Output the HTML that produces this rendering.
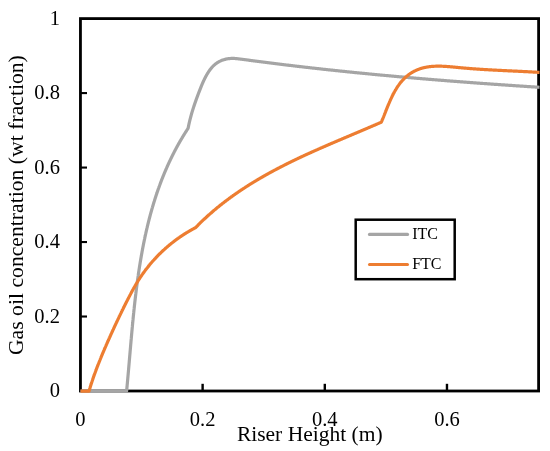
<!DOCTYPE html>
<html><head><meta charset="utf-8"><style>
html,body{margin:0;padding:0;background:#fff;}
body{width:550px;height:451px;overflow:hidden;}
svg{display:block;}
text{font-family:"Liberation Serif",serif;fill:#000;}
.tk{font-size:20.5px;}
.tt{font-size:21.7px;}
.lg{font-size:16px;}
</style></head><body>
<svg width="550" height="451" viewBox="0 0 550 451">
<rect x="0" y="0" width="550" height="451" fill="#fff"/>
<rect x="80.45" y="18.60" width="458.15" height="372.40" fill="none" stroke="#000" stroke-width="2.8"/>
<line x1="202.62" y1="391.00" x2="202.62" y2="383.8" stroke="#000" stroke-width="2.4"/><line x1="324.80" y1="391.00" x2="324.80" y2="383.8" stroke="#000" stroke-width="2.4"/><line x1="446.97" y1="391.00" x2="446.97" y2="383.8" stroke="#000" stroke-width="2.4"/><line x1="80.45" y1="316.52" x2="87" y2="316.52" stroke="#000" stroke-width="2.1"/><line x1="80.45" y1="242.04" x2="87" y2="242.04" stroke="#000" stroke-width="2.1"/><line x1="80.45" y1="167.56" x2="87" y2="167.56" stroke="#000" stroke-width="2.1"/><line x1="80.45" y1="93.08" x2="87" y2="93.08" stroke="#000" stroke-width="2.1"/>
<path d="M80.50 391.20 L126.60 391.20 L126.64 390.75 L126.69 390.30 L126.73 389.85 L126.77 389.40 L126.81 388.96 L126.86 388.51 L126.90 388.06 L126.94 387.61 L126.98 387.16 L127.03 386.71 L127.07 386.26 L127.11 385.81 L127.15 385.36 L127.19 384.91 L127.23 384.46 L127.28 384.01 L127.32 383.56 L127.36 383.11 L127.40 382.66 L127.44 382.21 L127.48 381.76 L127.52 381.31 L127.56 380.86 L127.61 380.41 L127.65 379.96 L127.69 379.51 L127.73 379.06 L127.77 378.61 L127.81 378.16 L127.85 377.70 L127.89 377.25 L127.93 376.80 L127.97 376.35 L128.01 375.90 L128.05 375.45 L128.09 375.00 L128.13 374.55 L128.17 374.09 L128.21 373.64 L128.25 373.19 L128.29 372.74 L128.33 372.29 L128.37 371.83 L128.41 371.38 L128.45 370.93 L128.49 370.48 L128.53 370.03 L128.57 369.57 L128.61 369.12 L128.65 368.67 L128.69 368.22 L128.73 367.76 L128.76 367.31 L128.80 366.86 L128.84 366.40 L128.88 365.95 L128.92 365.50 L128.96 365.05 L129.00 364.59 L129.04 364.14 L129.08 363.69 L129.12 363.23 L129.16 362.78 L129.20 362.33 L129.23 361.87 L129.27 361.42 L129.31 360.97 L129.35 360.51 L129.39 360.06 L129.43 359.61 L129.47 359.15 L129.51 358.70 L129.55 358.24 L129.59 357.79 L129.62 357.34 L129.66 356.88 L129.70 356.43 L129.74 355.97 L129.78 355.52 L129.82 355.07 L129.86 354.61 L129.90 354.16 L129.94 353.70 L129.98 353.25 L130.02 352.80 L130.05 352.34 L130.09 351.89 L130.13 351.43 L130.17 350.98 L130.21 350.52 L130.25 350.07 L130.29 349.61 L130.33 349.16 L130.37 348.70 L130.41 348.25 L130.45 347.79 L130.49 347.34 L130.53 346.88 L130.57 346.43 L130.60 345.97 L130.64 345.52 L130.68 345.06 L130.72 344.61 L130.76 344.15 L130.80 343.70 L130.84 343.24 L130.88 342.79 L130.92 342.33 L130.96 341.88 L131.00 341.42 L131.04 340.97 L131.08 340.51 L131.12 340.06 L131.16 339.60 L131.20 339.15 L131.24 338.69 L131.29 338.24 L131.33 337.78 L131.37 337.32 L131.41 336.87 L131.45 336.41 L131.49 335.96 L131.53 335.50 L131.57 335.05 L131.61 334.59 L131.65 334.14 L131.69 333.68 L131.74 333.22 L131.78 332.77 L131.82 332.31 L131.86 331.86 L131.90 331.40 L131.94 330.95 L131.99 330.49 L132.03 330.03 L132.07 329.58 L132.11 329.12 L132.15 328.67 L132.20 328.21 L132.24 327.76 L132.28 327.30 L132.32 326.84 L132.37 326.39 L132.41 325.93 L132.45 325.48 L132.50 325.02 L132.54 324.56 L132.58 324.11 L132.63 323.65 L132.67 323.20 L132.71 322.74 L132.76 322.29 L132.80 321.83 L132.85 321.37 L132.89 320.92 L132.93 320.46 L132.98 320.01 L133.02 319.55 L133.07 319.09 L133.11 318.64 L133.16 318.18 L133.20 317.73 L133.25 317.27 L133.29 316.82 L133.34 316.36 L133.39 315.90 L133.43 315.45 L133.48 314.99 L133.52 314.54 L133.57 314.08 L133.62 313.62 L133.66 313.17 L133.71 312.71 L133.76 312.26 L133.80 311.80 L133.85 311.35 L133.90 310.89 L133.95 310.43 L133.99 309.98 L134.04 309.52 L134.09 309.07 L134.14 308.61 L134.19 308.16 L134.23 307.70 L134.28 307.25 L134.33 306.79 L134.38 306.33 L134.43 305.88 L134.48 305.42 L134.53 304.97 L134.58 304.51 L134.63 304.06 L134.68 303.60 L134.73 303.15 L134.78 302.69 L134.83 302.24 L134.88 301.78 L134.93 301.33 L134.99 300.87 L135.04 300.42 L135.09 299.96 L135.14 299.50 L135.19 299.05 L135.25 298.59 L135.30 298.14 L135.35 297.68 L135.40 297.23 L135.46 296.77 L135.51 296.32 L135.56 295.86 L135.62 295.41 L135.67 294.96 L135.73 294.50 L135.78 294.05 L135.83 293.59 L135.89 293.14 L135.94 292.68 L136.00 292.23 L136.06 291.77 L136.11 291.32 L136.17 290.86 L136.22 290.41 L136.28 289.96 L136.34 289.50 L136.39 289.05 L136.45 288.59 L136.51 288.14 L136.57 287.68 L136.62 287.23 L136.68 286.78 L136.74 286.32 L136.80 285.87 L136.86 285.41 L136.92 284.96 L136.98 284.51 L137.04 284.05 L137.10 283.60 L137.16 283.15 L137.22 282.69 L137.28 282.24 L137.34 281.79 L137.40 281.33 L137.46 280.88 L137.52 280.43 L137.59 279.97 L137.65 279.52 L137.71 279.07 L137.77 278.61 L137.84 278.16 L137.90 277.71 L137.96 277.25 L138.03 276.80 L138.09 276.35 L138.16 275.90 L138.22 275.44 L138.29 274.99 L138.35 274.54 L138.42 274.09 L138.48 273.63 L138.55 273.18 L138.62 272.73 L138.68 272.28 L138.75 271.82 L138.82 271.37 L138.89 270.92 L138.95 270.47 L139.02 270.02 L139.09 269.56 L139.16 269.11 L139.23 268.66 L139.30 268.21 L139.37 267.76 L139.44 267.31 L139.51 266.86 L139.58 266.40 L139.65 265.95 L139.72 265.50 L139.79 265.05 L139.87 264.60 L139.94 264.15 L140.01 263.70 L140.08 263.25 L140.16 262.80 L140.23 262.35 L140.31 261.90 L140.38 261.45 L140.45 261.00 L140.53 260.55 L140.61 260.10 L140.68 259.65 L140.76 259.20 L140.83 258.75 L140.91 258.30 L140.99 257.85 L141.06 257.40 L141.14 256.95 L141.22 256.50 L141.30 256.05 L141.38 255.60 L141.46 255.15 L141.54 254.70 L141.62 254.25 L141.70 253.80 L141.78 253.36 L141.86 252.91 L141.94 252.46 L142.02 252.01 L142.10 251.56 L142.19 251.11 L142.27 250.66 L142.35 250.22 L142.43 249.77 L142.52 249.32 L142.60 248.87 L142.69 248.43 L142.77 247.98 L142.86 247.53 L142.94 247.08 L143.03 246.64 L143.12 246.19 L143.20 245.74 L143.29 245.29 L143.38 244.85 L143.47 244.40 L143.56 243.95 L143.64 243.51 L143.73 243.06 L143.82 242.62 L143.91 242.17 L144.00 241.72 L144.09 241.28 L144.19 240.83 L144.28 240.39 L144.37 239.94 L144.46 239.49 L144.56 239.05 L144.65 238.60 L144.74 238.16 L144.84 237.71 L144.93 237.27 L145.03 236.82 L145.12 236.38 L145.22 235.94 L145.31 235.49 L145.41 235.05 L145.51 234.60 L145.61 234.16 L145.70 233.71 L145.80 233.27 L145.90 232.83 L146.00 232.38 L146.10 231.94 L146.20 231.50 L146.30 231.05 L146.40 230.61 L146.50 230.17 L146.60 229.72 L146.71 229.28 L146.81 228.84 L146.91 228.40 L147.02 227.96 L147.12 227.51 L147.23 227.07 L147.33 226.63 L147.44 226.19 L147.54 225.75 L147.65 225.30 L147.76 224.86 L147.86 224.42 L147.97 223.98 L148.08 223.54 L148.19 223.10 L148.30 222.66 L148.41 222.22 L148.52 221.78 L148.63 221.34 L148.74 220.90 L148.85 220.46 L148.96 220.02 L149.07 219.58 L149.19 219.14 L149.30 218.70 L149.42 218.26 L149.53 217.82 L149.64 217.38 L149.76 216.95 L149.88 216.51 L149.99 216.07 L150.11 215.63 L150.23 215.19 L150.34 214.76 L150.46 214.32 L150.58 213.88 L150.70 213.44 L150.82 213.01 L150.94 212.57 L151.06 212.13 L151.18 211.70 L151.31 211.26 L151.43 210.82 L151.55 210.39 L151.68 209.95 L151.80 209.51 L151.92 209.08 L152.05 208.64 L152.17 208.21 L152.30 207.77 L152.43 207.34 L152.55 206.90 L152.68 206.47 L152.81 206.03 L152.94 205.60 L153.07 205.17 L153.20 204.73 L153.33 204.30 L153.46 203.86 L153.59 203.43 L153.72 203.00 L153.86 202.56 L153.99 202.13 L154.12 201.70 L154.26 201.27 L154.39 200.83 L154.53 200.40 L154.66 199.97 L154.80 199.54 L154.93 199.11 L155.07 198.68 L155.21 198.24 L155.35 197.81 L155.49 197.38 L155.63 196.95 L155.77 196.52 L155.91 196.09 L156.05 195.66 L156.19 195.23 L156.33 194.80 L156.48 194.37 L156.62 193.94 L156.77 193.51 L156.91 193.08 L157.06 192.66 L157.20 192.23 L157.35 191.80 L157.50 191.37 L157.64 190.94 L157.79 190.52 L157.94 190.09 L158.09 189.66 L158.24 189.23 L158.39 188.81 L158.54 188.38 L158.69 187.95 L158.85 187.53 L159.00 187.10 L159.15 186.67 L159.31 186.25 L159.46 185.82 L159.62 185.40 L159.77 184.97 L159.93 184.55 L160.09 184.12 L160.25 183.70 L160.40 183.28 L160.56 182.85 L160.72 182.43 L160.88 182.00 L161.04 181.58 L161.21 181.16 L161.37 180.74 L161.53 180.31 L161.69 179.89 L161.86 179.47 L162.02 179.05 L162.19 178.62 L162.35 178.20 L162.52 177.78 L162.69 177.36 L162.86 176.94 L163.03 176.52 L163.19 176.10 L163.36 175.68 L163.53 175.26 L163.71 174.84 L163.88 174.42 L164.05 174.00 L164.22 173.58 L164.40 173.16 L164.57 172.74 L164.75 172.32 L164.92 171.91 L165.10 171.49 L165.28 171.07 L165.45 170.65 L165.63 170.24 L165.81 169.82 L165.99 169.40 L166.17 168.99 L166.35 168.57 L166.53 168.15 L166.72 167.74 L166.90 167.32 L167.08 166.91 L167.27 166.49 L167.45 166.08 L167.64 165.66 L167.82 165.25 L168.01 164.84 L168.20 164.42 L168.39 164.01 L168.58 163.60 L168.77 163.18 L168.96 162.77 L169.15 162.36 L169.34 161.94 L169.53 161.53 L169.73 161.12 L169.92 160.71 L170.11 160.30 L170.31 159.89 L170.51 159.48 L170.70 159.07 L170.90 158.66 L171.10 158.25 L171.30 157.84 L171.50 157.43 L171.70 157.02 L171.90 156.61 L172.10 156.20 L172.30 155.79 L172.51 155.38 L172.71 154.98 L172.91 154.57 L173.12 154.16 L173.33 153.75 L173.53 153.35 L173.74 152.94 L173.95 152.54 L174.16 152.13 L174.37 151.72 L174.58 151.32 L174.79 150.91 L175.00 150.51 L175.21 150.10 L175.43 149.70 L175.64 149.30 L175.86 148.89 L176.07 148.49 L176.29 148.09 L176.51 147.68 L176.72 147.28 L176.94 146.88 L177.16 146.48 L177.38 146.07 L177.60 145.67 L177.82 145.27 L178.05 144.87 L178.27 144.47 L178.49 144.07 L178.72 143.67 L178.95 143.27 L179.17 142.87 L179.40 142.47 L179.63 142.07 L179.86 141.67 L180.08 141.27 L180.31 140.88 L180.55 140.48 L180.78 140.08 L181.01 139.68 L181.24 139.29 L181.48 138.89 L181.71 138.49 L181.95 138.10 L182.18 137.70 L182.42 137.31 L182.66 136.91 L182.90 136.52 L183.14 136.12 L183.38 135.73 L183.62 135.34 L183.86 134.94 L184.10 134.55 L184.35 134.16 L184.59 133.76 L184.84 133.37 L185.08 132.98 L185.33 132.59 L185.58 132.20 L185.83 131.80 L186.08 131.41 L186.33 131.02 L186.58 130.63 L186.83 130.24 L187.08 129.85 L187.34 129.47 L187.59 129.08 L187.84 128.69 L188.10 128.30 L188.23 127.64 L188.36 126.98 L188.49 126.32 L188.62 125.66 L188.76 125.01 L188.90 124.36 L189.05 123.70 L189.19 123.05 L189.34 122.40 L189.49 121.75 L189.65 121.11 L189.80 120.46 L189.96 119.82 L190.13 119.17 L190.29 118.53 L190.46 117.89 L190.63 117.25 L190.80 116.61 L190.97 115.97 L191.15 115.33 L191.32 114.70 L191.51 114.06 L191.69 113.43 L191.87 112.79 L192.06 112.16 L192.25 111.53 L192.44 110.90 L192.63 110.27 L192.83 109.64 L193.03 109.01 L193.23 108.38 L193.43 107.75 L193.63 107.12 L193.83 106.50 L194.04 105.87 L194.25 105.24 L194.46 104.62 L194.67 103.99 L194.88 103.37 L195.10 102.75 L195.32 102.12 L195.54 101.50 L195.76 100.88 L195.98 100.25 L196.20 99.63 L196.42 99.01 L196.65 98.39 L196.88 97.77 L197.11 97.15 L197.34 96.52 L197.57 95.90 L197.80 95.28 L198.03 94.66 L198.27 94.04 L198.51 93.42 L198.74 92.80 L198.98 92.17 L199.22 91.55 L199.46 90.93 L199.70 90.31 L199.95 89.69 L200.19 89.07 L200.43 88.44 L200.68 87.82 L200.93 87.20 L201.18 86.58 L201.43 85.96 L201.69 85.34 L201.94 84.72 L202.20 84.10 L202.46 83.49 L202.73 82.87 L203.00 82.26 L203.27 81.65 L203.55 81.04 L203.83 80.43 L204.12 79.83 L204.41 79.23 L204.70 78.63 L205.00 78.03 L205.30 77.44 L205.61 76.85 L205.93 76.26 L206.25 75.67 L206.57 75.09 L206.90 74.52 L207.24 73.94 L207.59 73.38 L207.94 72.81 L208.30 72.25 L208.66 71.70 L209.04 71.15 L209.42 70.60 L209.81 70.06 L210.20 69.52 L210.61 68.99 L211.02 68.47 L211.44 67.96 L211.87 67.45 L212.32 66.96 L212.77 66.47 L213.23 66.00 L213.70 65.54 L214.19 65.09 L214.68 64.65 L215.19 64.24 L215.71 63.83 L216.23 63.44 L216.77 63.06 L217.32 62.70 L217.88 62.36 L218.44 62.02 L219.02 61.71 L219.60 61.40 L220.19 61.11 L220.79 60.84 L221.39 60.58 L222.00 60.34 L222.62 60.11 L223.24 59.89 L223.87 59.69 L224.50 59.50 L225.14 59.33 L225.78 59.17 L226.43 59.03 L227.08 58.90 L227.73 58.79 L228.38 58.69 L229.04 58.61 L229.70 58.54 L230.36 58.48 L231.02 58.44 L231.69 58.42 L232.35 58.41 L233.01 58.41 L233.67 58.43 L234.34 58.46 L235.00 58.50 L235.66 58.55 L236.33 58.61 L236.99 58.68 L237.65 58.75 L238.31 58.83 L238.98 58.91 L239.64 58.99 L240.30 59.07 L240.96 59.16 L241.62 59.25 L242.28 59.33 L242.94 59.42 L243.60 59.50 L244.25 59.59 L244.91 59.68 L245.57 59.77 L246.23 59.85 L246.89 59.94 L247.54 60.03 L248.20 60.12 L248.86 60.21 L249.52 60.29 L250.18 60.38 L250.83 60.47 L251.49 60.56 L252.15 60.64 L252.81 60.73 L253.46 60.82 L254.12 60.90 L254.78 60.99 L255.44 61.08 L256.09 61.16 L256.75 61.25 L257.41 61.33 L258.07 61.42 L258.73 61.51 L259.38 61.59 L260.04 61.68 L260.70 61.76 L261.36 61.85 L262.02 61.93 L262.67 62.02 L263.33 62.10 L263.99 62.19 L264.65 62.27 L265.31 62.35 L265.96 62.44 L266.62 62.52 L267.28 62.61 L267.94 62.69 L268.60 62.77 L269.25 62.86 L269.91 62.94 L270.57 63.02 L271.23 63.11 L271.89 63.19 L272.55 63.27 L273.20 63.35 L273.86 63.44 L274.52 63.52 L275.18 63.60 L275.84 63.68 L276.50 63.76 L277.15 63.85 L277.81 63.93 L278.47 64.01 L279.13 64.09 L279.79 64.17 L280.45 64.25 L281.10 64.33 L281.76 64.41 L282.42 64.49 L283.08 64.57 L283.74 64.65 L284.40 64.73 L285.06 64.81 L285.71 64.89 L286.37 64.97 L287.03 65.05 L287.69 65.13 L288.35 65.21 L289.01 65.29 L289.67 65.37 L290.33 65.45 L290.98 65.53 L291.64 65.61 L292.30 65.68 L292.96 65.76 L293.62 65.84 L294.28 65.92 L294.94 66.00 L295.60 66.07 L296.25 66.15 L296.91 66.23 L297.57 66.31 L298.23 66.38 L298.89 66.46 L299.55 66.54 L300.21 66.61 L300.87 66.69 L301.53 66.77 L302.19 66.84 L302.84 66.92 L303.50 67.00 L304.16 67.07 L304.82 67.15 L305.48 67.22 L306.14 67.30 L306.80 67.37 L307.46 67.45 L308.12 67.52 L308.78 67.60 L309.44 67.67 L310.10 67.75 L310.75 67.82 L311.41 67.90 L312.07 67.97 L312.73 68.05 L313.39 68.12 L314.05 68.20 L314.71 68.27 L315.37 68.34 L316.03 68.42 L316.69 68.49 L317.35 68.56 L318.01 68.64 L318.67 68.71 L319.33 68.78 L319.99 68.86 L320.65 68.93 L321.30 69.00 L321.96 69.07 L322.62 69.15 L323.28 69.22 L323.94 69.29 L324.60 69.36 L325.26 69.43 L325.92 69.50 L326.58 69.58 L327.24 69.65 L327.90 69.72 L328.56 69.79 L329.22 69.86 L329.88 69.93 L330.54 70.00 L331.20 70.07 L331.86 70.14 L332.52 70.21 L333.18 70.28 L333.84 70.36 L334.50 70.43 L335.16 70.50 L335.82 70.56 L336.48 70.63 L337.14 70.70 L337.80 70.77 L338.46 70.84 L339.12 70.91 L339.78 70.98 L340.44 71.05 L341.10 71.12 L341.76 71.19 L342.42 71.26 L343.08 71.32 L343.74 71.39 L344.40 71.46 L345.06 71.53 L345.72 71.60 L346.38 71.67 L347.04 71.73 L347.70 71.80 L348.36 71.87 L349.02 71.94 L349.68 72.00 L350.34 72.07 L351.00 72.14 L351.66 72.20 L352.32 72.27 L352.98 72.34 L353.64 72.40 L354.30 72.47 L354.96 72.54 L355.62 72.60 L356.28 72.67 L356.94 72.74 L357.60 72.80 L358.26 72.87 L358.92 72.93 L359.58 73.00 L360.24 73.06 L360.90 73.13 L361.56 73.19 L362.22 73.26 L362.88 73.32 L363.54 73.39 L364.20 73.45 L364.86 73.52 L365.52 73.58 L366.18 73.65 L366.85 73.71 L367.51 73.78 L368.17 73.84 L368.83 73.90 L369.49 73.97 L370.15 74.03 L370.81 74.09 L371.47 74.16 L372.13 74.22 L372.79 74.29 L373.45 74.35 L374.11 74.41 L374.77 74.47 L375.43 74.54 L376.09 74.60 L376.75 74.66 L377.41 74.72 L378.07 74.79 L378.74 74.85 L379.40 74.91 L380.06 74.97 L380.72 75.04 L381.38 75.10 L382.04 75.16 L382.70 75.22 L383.36 75.28 L384.02 75.34 L384.68 75.41 L385.34 75.47 L386.00 75.53 L386.66 75.59 L387.32 75.65 L387.99 75.71 L388.65 75.77 L389.31 75.83 L389.97 75.89 L390.63 75.95 L391.29 76.01 L391.95 76.07 L392.61 76.13 L393.27 76.19 L393.93 76.25 L394.59 76.31 L395.26 76.37 L395.92 76.43 L396.58 76.49 L397.24 76.55 L397.90 76.61 L398.56 76.67 L399.22 76.73 L399.88 76.79 L400.54 76.85 L401.20 76.90 L401.87 76.96 L402.53 77.02 L403.19 77.08 L403.85 77.14 L404.51 77.20 L405.17 77.26 L405.83 77.31 L406.49 77.37 L407.15 77.43 L407.81 77.49 L408.48 77.54 L409.14 77.60 L409.80 77.66 L410.46 77.72 L411.12 77.77 L411.78 77.83 L412.44 77.89 L413.10 77.94 L413.77 78.00 L414.43 78.06 L415.09 78.12 L415.75 78.17 L416.41 78.23 L417.07 78.28 L417.73 78.34 L418.39 78.40 L419.06 78.45 L419.72 78.51 L420.38 78.57 L421.04 78.62 L421.70 78.68 L422.36 78.73 L423.02 78.79 L423.68 78.84 L424.35 78.90 L425.01 78.95 L425.67 79.01 L426.33 79.06 L426.99 79.12 L427.65 79.17 L428.31 79.23 L428.97 79.28 L429.64 79.34 L430.30 79.39 L430.96 79.45 L431.62 79.50 L432.28 79.56 L432.94 79.61 L433.60 79.66 L434.27 79.72 L434.93 79.77 L435.59 79.83 L436.25 79.88 L436.91 79.93 L437.57 79.99 L438.24 80.04 L438.90 80.09 L439.56 80.15 L440.22 80.20 L440.88 80.25 L441.54 80.31 L442.20 80.36 L442.87 80.41 L443.53 80.46 L444.19 80.52 L444.85 80.57 L445.51 80.62 L446.17 80.67 L446.84 80.73 L447.50 80.78 L448.16 80.83 L448.82 80.88 L449.48 80.93 L450.14 80.99 L450.80 81.04 L451.47 81.09 L452.13 81.14 L452.79 81.19 L453.45 81.24 L454.11 81.30 L454.77 81.35 L455.44 81.40 L456.10 81.45 L456.76 81.50 L457.42 81.55 L458.08 81.60 L458.74 81.65 L459.41 81.70 L460.07 81.75 L460.73 81.80 L461.39 81.85 L462.05 81.91 L462.71 81.96 L463.38 82.01 L464.04 82.06 L464.70 82.11 L465.36 82.16 L466.02 82.21 L466.69 82.26 L467.35 82.31 L468.01 82.36 L468.67 82.40 L469.33 82.45 L469.99 82.50 L470.66 82.55 L471.32 82.60 L471.98 82.65 L472.64 82.70 L473.30 82.75 L473.96 82.80 L474.63 82.85 L475.29 82.90 L475.95 82.94 L476.61 82.99 L477.27 83.04 L477.94 83.09 L478.60 83.14 L479.26 83.19 L479.92 83.24 L480.58 83.28 L481.25 83.33 L481.91 83.38 L482.57 83.43 L483.23 83.48 L483.89 83.52 L484.55 83.57 L485.22 83.62 L485.88 83.67 L486.54 83.71 L487.20 83.76 L487.86 83.81 L488.53 83.86 L489.19 83.90 L489.85 83.95 L490.51 84.00 L491.17 84.04 L491.84 84.09 L492.50 84.14 L493.16 84.19 L493.82 84.23 L494.48 84.28 L495.15 84.33 L495.81 84.37 L496.47 84.42 L497.13 84.46 L497.79 84.51 L498.45 84.56 L499.12 84.60 L499.78 84.65 L500.44 84.70 L501.10 84.74 L501.76 84.79 L502.43 84.83 L503.09 84.88 L503.75 84.93 L504.41 84.97 L505.07 85.02 L505.74 85.06 L506.40 85.11 L507.06 85.15 L507.72 85.20 L508.38 85.24 L509.05 85.29 L509.71 85.33 L510.37 85.38 L511.03 85.42 L511.69 85.47 L512.36 85.51 L513.02 85.56 L513.68 85.60 L514.34 85.65 L515.00 85.69 L515.67 85.74 L516.33 85.78 L516.99 85.83 L517.65 85.87 L518.31 85.91 L518.98 85.96 L519.64 86.00 L520.30 86.05 L520.96 86.09 L521.62 86.13 L522.29 86.18 L522.95 86.22 L523.61 86.27 L524.27 86.31 L524.93 86.35 L525.60 86.40 L526.26 86.44 L526.92 86.48 L527.58 86.53 L528.25 86.57 L528.91 86.61 L529.57 86.66 L530.23 86.70 L530.89 86.74 L531.56 86.79 L532.22 86.83 L532.88 86.87 L533.54 86.92 L534.20 86.96 L534.87 87.00 L535.53 87.04 L536.19 87.09 L536.85 87.13 L537.51 87.17 L538.18 87.22 L538.84 87.26 L539.50 87.30" fill="none" stroke="#A5A5A5" stroke-width="3.2" stroke-linejoin="round"/>
<path d="M80.50 391.20 L89.00 391.20 L89.09 390.88 L89.19 390.55 L89.28 390.23 L89.38 389.91 L89.47 389.59 L89.57 389.27 L89.67 388.94 L89.76 388.62 L89.86 388.30 L89.96 387.98 L90.05 387.66 L90.15 387.34 L90.25 387.02 L90.35 386.70 L90.45 386.38 L90.55 386.06 L90.65 385.74 L90.75 385.42 L90.85 385.10 L90.95 384.78 L91.05 384.46 L91.16 384.14 L91.26 383.82 L91.36 383.50 L91.46 383.18 L91.57 382.86 L91.67 382.55 L91.78 382.23 L91.88 381.91 L91.98 381.59 L92.09 381.27 L92.20 380.96 L92.30 380.64 L92.41 380.32 L92.51 380.00 L92.62 379.69 L92.73 379.37 L92.84 379.05 L92.94 378.74 L93.05 378.42 L93.16 378.10 L93.27 377.79 L93.38 377.47 L93.49 377.16 L93.60 376.84 L93.71 376.53 L93.82 376.21 L93.93 375.89 L94.04 375.58 L94.15 375.26 L94.27 374.95 L94.38 374.63 L94.49 374.32 L94.60 374.01 L94.72 373.69 L94.83 373.38 L94.94 373.06 L95.06 372.75 L95.17 372.43 L95.29 372.12 L95.40 371.81 L95.52 371.49 L95.63 371.18 L95.75 370.87 L95.86 370.55 L95.98 370.24 L96.10 369.93 L96.21 369.61 L96.33 369.30 L96.45 368.99 L96.57 368.68 L96.68 368.36 L96.80 368.05 L96.92 367.74 L97.04 367.43 L97.16 367.12 L97.28 366.80 L97.40 366.49 L97.52 366.18 L97.64 365.87 L97.76 365.56 L97.88 365.25 L98.00 364.94 L98.12 364.63 L98.24 364.31 L98.37 364.00 L98.49 363.69 L98.61 363.38 L98.73 363.07 L98.86 362.76 L98.98 362.45 L99.10 362.14 L99.23 361.83 L99.35 361.52 L99.47 361.21 L99.60 360.90 L99.72 360.59 L99.85 360.28 L99.97 359.97 L100.10 359.66 L100.22 359.35 L100.35 359.04 L100.47 358.73 L100.60 358.43 L100.72 358.12 L100.85 357.81 L100.98 357.50 L101.10 357.19 L101.23 356.88 L101.36 356.57 L101.49 356.26 L101.61 355.96 L101.74 355.65 L101.87 355.34 L102.00 355.03 L102.13 354.72 L102.26 354.41 L102.38 354.11 L102.51 353.80 L102.64 353.49 L102.77 353.18 L102.90 352.87 L103.03 352.57 L103.16 352.26 L103.29 351.95 L103.42 351.64 L103.55 351.34 L103.68 351.03 L103.81 350.72 L103.94 350.42 L104.08 350.11 L104.21 349.80 L104.34 349.49 L104.47 349.19 L104.60 348.88 L104.73 348.57 L104.87 348.27 L105.00 347.96 L105.13 347.65 L105.26 347.35 L105.40 347.04 L105.53 346.73 L105.66 346.43 L105.80 346.12 L105.93 345.81 L106.06 345.51 L106.20 345.20 L106.33 344.90 L106.46 344.59 L106.60 344.28 L106.73 343.98 L106.87 343.67 L107.00 343.36 L107.13 343.06 L107.27 342.75 L107.40 342.45 L107.54 342.14 L107.67 341.84 L107.81 341.53 L107.94 341.22 L108.08 340.92 L108.22 340.61 L108.35 340.31 L108.49 340.00 L108.62 339.70 L108.76 339.39 L108.89 339.08 L109.03 338.78 L109.17 338.47 L109.30 338.17 L109.44 337.86 L109.58 337.56 L109.71 337.25 L109.85 336.95 L109.99 336.64 L110.12 336.34 L110.26 336.03 L110.40 335.73 L110.53 335.42 L110.67 335.12 L110.81 334.81 L110.95 334.51 L111.09 334.20 L111.22 333.90 L111.36 333.59 L111.50 333.29 L111.64 332.98 L111.78 332.68 L111.91 332.37 L112.05 332.07 L112.19 331.76 L112.33 331.46 L112.47 331.15 L112.61 330.85 L112.75 330.55 L112.89 330.24 L113.03 329.94 L113.17 329.63 L113.31 329.33 L113.44 329.02 L113.58 328.72 L113.72 328.42 L113.86 328.11 L114.00 327.81 L114.15 327.50 L114.29 327.20 L114.43 326.90 L114.57 326.59 L114.71 326.29 L114.85 325.98 L114.99 325.68 L115.13 325.38 L115.27 325.07 L115.41 324.77 L115.55 324.47 L115.70 324.16 L115.84 323.86 L115.98 323.56 L116.12 323.25 L116.26 322.95 L116.41 322.65 L116.55 322.34 L116.69 322.04 L116.83 321.74 L116.98 321.43 L117.12 321.13 L117.26 320.83 L117.40 320.52 L117.55 320.22 L117.69 319.92 L117.83 319.62 L117.98 319.31 L118.12 319.01 L118.27 318.71 L118.41 318.41 L118.55 318.10 L118.70 317.80 L118.84 317.50 L118.99 317.20 L119.13 316.89 L119.28 316.59 L119.42 316.29 L119.57 315.99 L119.71 315.69 L119.86 315.38 L120.00 315.08 L120.15 314.78 L120.29 314.48 L120.44 314.18 L120.58 313.88 L120.73 313.57 L120.88 313.27 L121.02 312.97 L121.17 312.67 L121.31 312.37 L121.46 312.07 L121.61 311.77 L121.76 311.47 L121.90 311.17 L122.05 310.86 L122.20 310.56 L122.34 310.26 L122.49 309.96 L122.64 309.66 L122.79 309.36 L122.93 309.06 L123.08 308.76 L123.23 308.46 L123.38 308.16 L123.53 307.86 L123.68 307.56 L123.82 307.26 L123.97 306.96 L124.12 306.66 L124.27 306.36 L124.42 306.06 L124.57 305.76 L124.72 305.46 L124.87 305.16 L125.02 304.86 L125.17 304.56 L125.32 304.26 L125.47 303.96 L125.62 303.66 L125.77 303.36 L125.92 303.06 L126.07 302.77 L126.22 302.47 L126.37 302.17 L126.52 301.87 L126.68 301.57 L126.83 301.27 L126.98 300.97 L127.13 300.67 L127.28 300.38 L127.43 300.08 L127.59 299.78 L127.74 299.48 L127.89 299.18 L128.04 298.89 L128.20 298.59 L128.35 298.29 L128.50 297.99 L128.66 297.69 L128.81 297.40 L128.96 297.10 L129.12 296.80 L129.27 296.50 L129.43 296.21 L129.58 295.91 L129.73 295.61 L129.89 295.32 L130.04 295.02 L130.20 294.73 L130.36 294.43 L130.51 294.13 L130.67 293.84 L130.82 293.54 L130.98 293.25 L131.14 292.95 L131.30 292.66 L131.45 292.36 L131.61 292.07 L131.77 291.77 L131.93 291.48 L132.09 291.18 L132.25 290.89 L132.41 290.60 L132.57 290.30 L132.73 290.01 L132.89 289.72 L133.05 289.43 L133.21 289.13 L133.38 288.84 L133.54 288.55 L133.70 288.26 L133.86 287.97 L134.03 287.67 L134.19 287.38 L134.36 287.09 L134.52 286.80 L134.69 286.51 L134.85 286.22 L135.02 285.93 L135.19 285.65 L135.36 285.36 L135.52 285.07 L135.69 284.78 L135.86 284.49 L136.03 284.21 L136.20 283.92 L136.37 283.63 L136.54 283.35 L136.72 283.06 L136.89 282.77 L137.06 282.49 L137.23 282.20 L137.41 281.92 L137.58 281.64 L137.76 281.35 L137.94 281.07 L138.11 280.79 L138.29 280.50 L138.47 280.22 L138.65 279.94 L138.82 279.66 L139.00 279.38 L139.18 279.10 L139.37 278.82 L139.55 278.54 L139.73 278.26 L139.91 277.98 L140.10 277.70 L140.28 277.42 L140.46 277.14 L140.65 276.87 L140.84 276.59 L141.02 276.31 L141.21 276.04 L141.40 275.76 L141.59 275.49 L141.77 275.21 L141.96 274.94 L142.15 274.66 L142.35 274.39 L142.54 274.12 L142.73 273.84 L142.92 273.57 L143.12 273.30 L143.31 273.03 L143.50 272.76 L143.70 272.49 L143.89 272.22 L144.09 271.95 L144.29 271.68 L144.49 271.41 L144.68 271.14 L144.88 270.87 L145.08 270.61 L145.28 270.34 L145.48 270.07 L145.68 269.81 L145.89 269.54 L146.09 269.28 L146.29 269.01 L146.49 268.75 L146.70 268.49 L146.90 268.22 L147.11 267.96 L147.31 267.70 L147.52 267.43 L147.73 267.17 L147.94 266.91 L148.14 266.65 L148.35 266.39 L148.56 266.13 L148.77 265.87 L148.98 265.61 L149.19 265.36 L149.41 265.10 L149.62 264.84 L149.83 264.58 L150.04 264.33 L150.26 264.07 L150.47 263.82 L150.69 263.56 L150.90 263.31 L151.12 263.05 L151.34 262.80 L151.56 262.55 L151.77 262.29 L151.99 262.04 L152.21 261.79 L152.43 261.54 L152.65 261.29 L152.87 261.04 L153.09 260.79 L153.32 260.54 L153.54 260.29 L153.76 260.04 L153.99 259.80 L154.21 259.55 L154.43 259.30 L154.66 259.06 L154.89 258.81 L155.11 258.57 L155.34 258.32 L155.57 258.08 L155.79 257.83 L156.02 257.59 L156.25 257.35 L156.48 257.10 L156.71 256.86 L156.94 256.62 L157.17 256.38 L157.41 256.14 L157.64 255.90 L157.87 255.66 L158.11 255.42 L158.34 255.19 L158.57 254.95 L158.81 254.71 L159.05 254.47 L159.28 254.24 L159.52 254.00 L159.76 253.77 L159.99 253.53 L160.23 253.30 L160.47 253.07 L160.71 252.83 L160.95 252.60 L161.19 252.37 L161.43 252.14 L161.67 251.91 L161.92 251.68 L162.16 251.45 L162.40 251.22 L162.64 250.99 L162.89 250.76 L163.13 250.53 L163.38 250.31 L163.62 250.08 L163.87 249.85 L164.12 249.63 L164.36 249.40 L164.61 249.18 L164.86 248.96 L165.11 248.73 L165.36 248.51 L165.61 248.29 L165.86 248.07 L166.11 247.84 L166.36 247.62 L166.61 247.40 L166.86 247.18 L167.12 246.97 L167.37 246.75 L167.62 246.53 L167.88 246.31 L168.13 246.10 L168.39 245.88 L168.65 245.66 L168.90 245.45 L169.16 245.23 L169.42 245.02 L169.67 244.81 L169.93 244.60 L170.19 244.38 L170.45 244.17 L170.71 243.96 L170.97 243.75 L171.23 243.54 L171.49 243.33 L171.75 243.12 L172.02 242.91 L172.28 242.71 L172.54 242.50 L172.81 242.29 L173.07 242.09 L173.33 241.88 L173.60 241.68 L173.86 241.47 L174.13 241.27 L174.40 241.07 L174.66 240.86 L174.93 240.66 L175.20 240.46 L175.47 240.26 L175.74 240.06 L176.01 239.86 L176.28 239.66 L176.55 239.47 L176.82 239.27 L177.09 239.07 L177.36 238.87 L177.63 238.68 L177.90 238.48 L178.18 238.29 L178.45 238.09 L178.72 237.90 L179.00 237.71 L179.27 237.52 L179.55 237.33 L179.82 237.13 L180.10 236.94 L180.38 236.75 L180.65 236.57 L180.93 236.38 L181.21 236.19 L181.49 236.00 L181.77 235.81 L182.05 235.63 L182.33 235.44 L182.61 235.26 L182.89 235.07 L183.17 234.89 L183.45 234.71 L183.73 234.53 L184.01 234.34 L184.29 234.16 L184.58 233.98 L184.86 233.80 L185.14 233.62 L185.43 233.44 L185.71 233.27 L186.00 233.09 L186.28 232.91 L186.57 232.74 L186.85 232.56 L187.14 232.39 L187.43 232.21 L187.71 232.04 L188.00 231.87 L188.29 231.69 L188.58 231.52 L188.87 231.35 L189.15 231.18 L189.44 231.01 L189.73 230.84 L190.02 230.67 L190.31 230.51 L190.60 230.34 L190.90 230.17 L191.19 230.01 L191.48 229.84 L191.77 229.68 L192.06 229.51 L192.36 229.35 L192.65 229.19 L192.94 229.03 L193.24 228.87 L193.53 228.70 L193.83 228.55 L194.12 228.39 L194.42 228.23 L194.71 228.07 L195.01 227.91 L195.30 227.76 L195.60 227.60 L195.85 227.34 L196.11 227.08 L196.36 226.82 L196.62 226.56 L196.87 226.30 L197.13 226.04 L197.39 225.78 L197.64 225.52 L197.90 225.26 L198.16 225.01 L198.41 224.75 L198.67 224.49 L198.93 224.24 L199.19 223.98 L199.45 223.73 L199.70 223.47 L199.96 223.22 L200.22 222.96 L200.48 222.71 L200.74 222.46 L201.00 222.20 L201.26 221.95 L201.52 221.70 L201.79 221.45 L202.05 221.20 L202.31 220.95 L202.57 220.70 L202.83 220.45 L203.10 220.20 L203.36 219.95 L203.62 219.70 L203.89 219.45 L204.15 219.21 L204.42 218.96 L204.68 218.71 L204.94 218.47 L205.21 218.22 L205.48 217.98 L205.74 217.73 L206.01 217.49 L206.27 217.24 L206.54 217.00 L206.81 216.76 L207.07 216.51 L207.34 216.27 L207.61 216.03 L207.88 215.79 L208.15 215.55 L208.41 215.30 L208.68 215.06 L208.95 214.82 L209.22 214.58 L209.49 214.35 L209.76 214.11 L210.03 213.87 L210.30 213.63 L210.57 213.39 L210.84 213.16 L211.12 212.92 L211.39 212.68 L211.66 212.45 L211.93 212.21 L212.20 211.98 L212.48 211.74 L212.75 211.51 L213.02 211.27 L213.30 211.04 L213.57 210.81 L213.84 210.57 L214.12 210.34 L214.39 210.11 L214.67 209.88 L214.94 209.65 L215.22 209.42 L215.50 209.19 L215.77 208.96 L216.05 208.73 L216.32 208.50 L216.60 208.27 L216.88 208.04 L217.16 207.81 L217.43 207.58 L217.71 207.36 L217.99 207.13 L218.27 206.90 L218.55 206.68 L218.83 206.45 L219.10 206.23 L219.38 206.00 L219.66 205.78 L219.94 205.55 L220.22 205.33 L220.50 205.10 L220.79 204.88 L221.07 204.66 L221.35 204.44 L221.63 204.21 L221.91 203.99 L222.19 203.77 L222.48 203.55 L222.76 203.33 L223.04 203.11 L223.32 202.89 L223.61 202.67 L223.89 202.45 L224.17 202.23 L224.46 202.01 L224.74 201.80 L225.03 201.58 L225.31 201.36 L225.60 201.15 L225.88 200.93 L226.17 200.71 L226.45 200.50 L226.74 200.28 L227.03 200.07 L227.31 199.85 L227.60 199.64 L227.89 199.42 L228.17 199.21 L228.46 199.00 L228.75 198.78 L229.04 198.57 L229.32 198.36 L229.61 198.15 L229.90 197.94 L230.19 197.72 L230.48 197.51 L230.77 197.30 L231.06 197.09 L231.35 196.88 L231.64 196.67 L231.93 196.46 L232.22 196.26 L232.51 196.05 L232.80 195.84 L233.09 195.63 L233.38 195.42 L233.68 195.22 L233.97 195.01 L234.26 194.80 L234.55 194.60 L234.84 194.39 L235.14 194.19 L235.43 193.98 L235.72 193.78 L236.02 193.57 L236.31 193.37 L236.60 193.16 L236.90 192.96 L237.19 192.76 L237.49 192.56 L237.78 192.35 L238.08 192.15 L238.37 191.95 L238.67 191.75 L238.96 191.55 L239.26 191.35 L239.56 191.15 L239.85 190.95 L240.15 190.75 L240.44 190.55 L240.74 190.35 L241.04 190.15 L241.34 189.95 L241.63 189.75 L241.93 189.55 L242.23 189.36 L242.53 189.16 L242.83 188.96 L243.12 188.77 L243.42 188.57 L243.72 188.37 L244.02 188.18 L244.32 187.98 L244.62 187.79 L244.92 187.59 L245.22 187.40 L245.52 187.20 L245.82 187.01 L246.12 186.82 L246.42 186.62 L246.72 186.43 L247.02 186.24 L247.33 186.04 L247.63 185.85 L247.93 185.66 L248.23 185.47 L248.53 185.28 L248.84 185.09 L249.14 184.90 L249.44 184.71 L249.74 184.52 L250.05 184.33 L250.35 184.14 L250.65 183.95 L250.96 183.76 L251.26 183.57 L251.57 183.38 L251.87 183.20 L252.18 183.01 L252.48 182.82 L252.78 182.63 L253.09 182.45 L253.40 182.26 L253.70 182.07 L254.01 181.89 L254.31 181.70 L254.62 181.52 L254.92 181.33 L255.23 181.15 L255.54 180.96 L255.84 180.78 L256.15 180.60 L256.46 180.41 L256.76 180.23 L257.07 180.05 L257.38 179.86 L257.69 179.68 L258.00 179.50 L258.30 179.32 L258.61 179.13 L258.92 178.95 L259.23 178.77 L259.54 178.59 L259.85 178.41 L260.16 178.23 L260.47 178.05 L260.77 177.87 L261.08 177.69 L261.39 177.51 L261.70 177.33 L262.01 177.15 L262.32 176.98 L262.64 176.80 L262.95 176.62 L263.26 176.44 L263.57 176.26 L263.88 176.09 L264.19 175.91 L264.50 175.73 L264.81 175.56 L265.13 175.38 L265.44 175.20 L265.75 175.03 L266.06 174.85 L266.37 174.68 L266.69 174.50 L267.00 174.33 L267.31 174.15 L267.63 173.98 L267.94 173.81 L268.25 173.63 L268.57 173.46 L268.88 173.29 L269.19 173.11 L269.51 172.94 L269.82 172.77 L270.14 172.60 L270.45 172.42 L270.76 172.25 L271.08 172.08 L271.39 171.91 L271.71 171.74 L272.02 171.57 L272.34 171.40 L272.65 171.23 L272.97 171.06 L273.29 170.89 L273.60 170.72 L273.92 170.55 L274.23 170.38 L274.55 170.21 L274.87 170.04 L275.18 169.87 L275.50 169.71 L275.82 169.54 L276.13 169.37 L276.45 169.20 L276.77 169.04 L277.09 168.87 L277.40 168.70 L277.72 168.54 L278.04 168.37 L278.36 168.20 L278.68 168.04 L278.99 167.87 L279.31 167.71 L279.63 167.54 L279.95 167.38 L280.27 167.21 L280.59 167.05 L280.91 166.88 L281.22 166.72 L281.54 166.55 L281.86 166.39 L282.18 166.23 L282.50 166.06 L282.82 165.90 L283.14 165.74 L283.46 165.57 L283.78 165.41 L284.10 165.25 L284.42 165.09 L284.74 164.93 L285.06 164.76 L285.38 164.60 L285.71 164.44 L286.03 164.28 L286.35 164.12 L286.67 163.96 L286.99 163.80 L287.31 163.64 L287.63 163.48 L287.95 163.32 L288.28 163.16 L288.60 163.00 L288.92 162.84 L289.24 162.68 L289.56 162.52 L289.89 162.36 L290.21 162.21 L290.53 162.05 L290.85 161.89 L291.18 161.73 L291.50 161.57 L291.82 161.42 L292.15 161.26 L292.47 161.10 L292.79 160.95 L293.12 160.79 L293.44 160.63 L293.76 160.48 L294.09 160.32 L294.41 160.16 L294.73 160.01 L295.06 159.85 L295.38 159.70 L295.71 159.54 L296.03 159.39 L296.36 159.23 L296.68 159.08 L297.01 158.92 L297.33 158.77 L297.65 158.61 L297.98 158.46 L298.30 158.31 L298.63 158.15 L298.95 158.00 L299.28 157.84 L299.61 157.69 L299.93 157.54 L300.26 157.39 L300.58 157.23 L300.91 157.08 L301.23 156.93 L301.56 156.77 L301.88 156.62 L302.21 156.47 L302.54 156.32 L302.86 156.17 L303.19 156.02 L303.52 155.86 L303.84 155.71 L304.17 155.56 L304.50 155.41 L304.82 155.26 L305.15 155.11 L305.48 154.96 L305.80 154.81 L306.13 154.66 L306.46 154.51 L306.78 154.36 L307.11 154.21 L307.44 154.06 L307.77 153.91 L308.09 153.76 L308.42 153.61 L308.75 153.46 L309.08 153.31 L309.40 153.16 L309.73 153.02 L310.06 152.87 L310.39 152.72 L310.71 152.57 L311.04 152.42 L311.37 152.27 L311.70 152.13 L312.03 151.98 L312.36 151.83 L312.68 151.68 L313.01 151.54 L313.34 151.39 L313.67 151.24 L314.00 151.10 L314.33 150.95 L314.66 150.80 L314.98 150.65 L315.31 150.51 L315.64 150.36 L315.97 150.22 L316.30 150.07 L316.63 149.92 L316.96 149.78 L317.29 149.63 L317.62 149.49 L317.95 149.34 L318.28 149.19 L318.60 149.05 L318.93 148.90 L319.26 148.76 L319.59 148.61 L319.92 148.47 L320.25 148.32 L320.58 148.18 L320.91 148.03 L321.24 147.89 L321.57 147.74 L321.90 147.60 L322.23 147.46 L322.56 147.31 L322.89 147.17 L323.22 147.02 L323.55 146.88 L323.88 146.74 L324.21 146.59 L324.54 146.45 L324.87 146.30 L325.20 146.16 L325.53 146.02 L325.86 145.87 L326.19 145.73 L326.52 145.59 L326.85 145.44 L327.18 145.30 L327.51 145.16 L327.84 145.02 L328.18 144.87 L328.51 144.73 L328.84 144.59 L329.17 144.45 L329.50 144.30 L329.83 144.16 L330.16 144.02 L330.49 143.88 L330.82 143.73 L331.15 143.59 L331.48 143.45 L331.81 143.31 L332.14 143.17 L332.47 143.02 L332.81 142.88 L333.14 142.74 L333.47 142.60 L333.80 142.46 L334.13 142.32 L334.46 142.17 L334.79 142.03 L335.12 141.89 L335.45 141.75 L335.78 141.61 L336.12 141.47 L336.45 141.33 L336.78 141.19 L337.11 141.04 L337.44 140.90 L337.77 140.76 L338.10 140.62 L338.43 140.48 L338.76 140.34 L339.09 140.20 L339.43 140.06 L339.76 139.92 L340.09 139.78 L340.42 139.64 L340.75 139.50 L341.08 139.36 L341.41 139.22 L341.74 139.07 L342.08 138.93 L342.41 138.79 L342.74 138.65 L343.07 138.51 L343.40 138.37 L343.73 138.23 L344.06 138.09 L344.39 137.95 L344.72 137.81 L345.06 137.67 L345.39 137.53 L345.72 137.39 L346.05 137.25 L346.38 137.11 L346.71 136.97 L347.04 136.83 L347.37 136.69 L347.71 136.55 L348.04 136.41 L348.37 136.27 L348.70 136.13 L349.03 135.99 L349.36 135.85 L349.69 135.71 L350.02 135.57 L350.35 135.43 L350.68 135.29 L351.02 135.15 L351.35 135.01 L351.68 134.87 L352.01 134.73 L352.34 134.59 L352.67 134.46 L353.00 134.32 L353.33 134.18 L353.66 134.04 L353.99 133.90 L354.32 133.76 L354.65 133.62 L354.99 133.48 L355.32 133.34 L355.65 133.20 L355.98 133.06 L356.31 132.92 L356.64 132.78 L356.97 132.64 L357.30 132.50 L357.63 132.36 L357.96 132.22 L358.29 132.08 L358.62 131.94 L358.95 131.80 L359.28 131.66 L359.61 131.52 L359.94 131.38 L360.27 131.24 L360.60 131.10 L360.93 130.96 L361.26 130.82 L361.59 130.68 L361.92 130.54 L362.25 130.40 L362.58 130.26 L362.91 130.12 L363.24 129.98 L363.57 129.84 L363.90 129.70 L364.23 129.56 L364.56 129.42 L364.89 129.28 L365.22 129.14 L365.55 129.00 L365.88 128.86 L366.21 128.72 L366.54 128.58 L366.87 128.44 L367.20 128.30 L367.53 128.15 L367.86 128.01 L368.19 127.87 L368.51 127.73 L368.84 127.59 L369.17 127.45 L369.50 127.31 L369.83 127.17 L370.16 127.03 L370.49 126.89 L370.82 126.75 L371.15 126.61 L371.47 126.46 L371.80 126.32 L372.13 126.18 L372.46 126.04 L372.79 125.90 L373.12 125.76 L373.44 125.62 L373.77 125.47 L374.10 125.33 L374.43 125.19 L374.76 125.05 L375.08 124.91 L375.41 124.77 L375.74 124.62 L376.07 124.48 L376.40 124.34 L376.72 124.20 L377.05 124.06 L377.38 123.91 L377.70 123.77 L378.03 123.63 L378.36 123.49 L378.69 123.34 L379.01 123.20 L379.34 123.06 L379.67 122.92 L379.99 122.77 L380.32 122.63 L380.65 122.49 L380.97 122.34 L381.30 122.20 L381.42 121.92 L381.54 121.64 L381.66 121.37 L381.78 121.09 L381.90 120.81 L382.02 120.53 L382.13 120.24 L382.25 119.96 L382.37 119.68 L382.49 119.40 L382.61 119.11 L382.72 118.83 L382.84 118.54 L382.96 118.26 L383.07 117.97 L383.19 117.69 L383.31 117.40 L383.42 117.11 L383.54 116.83 L383.65 116.54 L383.77 116.25 L383.88 115.96 L384.00 115.67 L384.12 115.38 L384.23 115.09 L384.35 114.80 L384.46 114.51 L384.58 114.22 L384.69 113.93 L384.81 113.64 L384.92 113.35 L385.04 113.05 L385.16 112.76 L385.27 112.47 L385.39 112.17 L385.50 111.88 L385.62 111.59 L385.73 111.29 L385.85 111.00 L385.97 110.71 L386.08 110.41 L386.20 110.12 L386.32 109.82 L386.43 109.53 L386.55 109.23 L386.67 108.94 L386.79 108.64 L386.90 108.35 L387.02 108.05 L387.14 107.76 L387.26 107.46 L387.38 107.17 L387.50 106.87 L387.62 106.58 L387.74 106.28 L387.86 105.99 L387.98 105.69 L388.10 105.40 L388.22 105.10 L388.34 104.81 L388.47 104.51 L388.59 104.22 L388.71 103.92 L388.84 103.63 L388.96 103.33 L389.09 103.04 L389.21 102.74 L389.34 102.45 L389.46 102.16 L389.59 101.86 L389.72 101.57 L389.85 101.28 L389.97 100.98 L390.10 100.69 L390.23 100.40 L390.36 100.11 L390.49 99.81 L390.63 99.52 L390.76 99.23 L390.89 98.94 L391.02 98.65 L391.16 98.36 L391.29 98.07 L391.43 97.78 L391.57 97.49 L391.70 97.20 L391.84 96.92 L391.98 96.63 L392.12 96.34 L392.26 96.06 L392.40 95.77 L392.54 95.48 L392.68 95.20 L392.83 94.91 L392.97 94.63 L393.12 94.35 L393.26 94.06 L393.41 93.78 L393.56 93.50 L393.71 93.22 L393.86 92.94 L394.01 92.66 L394.16 92.38 L394.31 92.10 L394.47 91.82 L394.62 91.54 L394.78 91.27 L394.93 90.99 L395.09 90.72 L395.25 90.44 L395.41 90.17 L395.57 89.89 L395.73 89.62 L395.90 89.35 L396.06 89.08 L396.23 88.81 L396.39 88.54 L396.56 88.27 L396.73 88.00 L396.90 87.74 L397.07 87.47 L397.25 87.21 L397.42 86.94 L397.59 86.68 L397.77 86.42 L397.95 86.16 L398.13 85.90 L398.31 85.64 L398.49 85.38 L398.67 85.12 L398.86 84.87 L399.04 84.61 L399.23 84.36 L399.42 84.10 L399.60 83.85 L399.80 83.60 L399.99 83.35 L400.18 83.10 L400.38 82.85 L400.57 82.61 L400.77 82.36 L400.97 82.12 L401.17 81.87 L401.37 81.63 L401.58 81.39 L401.78 81.15 L401.99 80.92 L402.20 80.68 L402.40 80.45 L402.62 80.21 L402.83 79.98 L403.04 79.75 L403.26 79.52 L403.47 79.30 L403.69 79.07 L403.91 78.85 L404.13 78.62 L404.35 78.40 L404.58 78.18 L404.80 77.97 L405.03 77.75 L405.26 77.54 L405.49 77.33 L405.72 77.12 L405.95 76.91 L406.18 76.70 L406.42 76.50 L406.66 76.29 L406.90 76.09 L407.14 75.89 L407.38 75.70 L407.62 75.50 L407.87 75.31 L408.11 75.12 L408.36 74.93 L408.61 74.74 L408.86 74.56 L409.11 74.38 L409.36 74.20 L409.62 74.02 L409.88 73.84 L410.13 73.66 L410.39 73.49 L410.65 73.32 L410.91 73.15 L411.17 72.99 L411.44 72.82 L411.70 72.66 L411.97 72.50 L412.23 72.34 L412.50 72.18 L412.77 72.03 L413.04 71.88 L413.31 71.73 L413.59 71.58 L413.86 71.43 L414.13 71.29 L414.41 71.15 L414.68 71.01 L414.96 70.87 L415.24 70.74 L415.52 70.60 L415.80 70.47 L416.08 70.34 L416.36 70.22 L416.64 70.09 L416.93 69.97 L417.21 69.85 L417.50 69.73 L417.78 69.61 L418.07 69.50 L418.36 69.39 L418.64 69.28 L418.93 69.17 L419.22 69.07 L419.51 68.96 L419.80 68.86 L420.09 68.76 L420.39 68.67 L420.68 68.57 L420.97 68.48 L421.26 68.39 L421.56 68.30 L421.85 68.22 L422.15 68.13 L422.44 68.05 L422.74 67.97 L423.04 67.89 L423.34 67.82 L423.63 67.74 L423.93 67.67 L424.23 67.60 L424.53 67.53 L424.83 67.47 L425.13 67.40 L425.43 67.34 L425.73 67.28 L426.03 67.22 L426.34 67.17 L426.64 67.11 L426.94 67.06 L427.25 67.01 L427.55 66.96 L427.86 66.91 L428.16 66.86 L428.47 66.82 L428.77 66.78 L429.08 66.73 L429.38 66.69 L429.69 66.66 L430.00 66.62 L430.31 66.59 L430.62 66.55 L430.92 66.52 L431.23 66.49 L431.54 66.46 L431.85 66.43 L432.16 66.41 L432.47 66.38 L432.78 66.36 L433.10 66.34 L433.41 66.32 L433.72 66.30 L434.03 66.28 L434.34 66.27 L434.66 66.25 L434.97 66.24 L435.28 66.23 L435.60 66.22 L435.91 66.21 L436.23 66.20 L436.54 66.19 L436.86 66.19 L437.17 66.18 L437.49 66.18 L437.80 66.17 L438.12 66.17 L438.43 66.17 L438.75 66.17 L439.07 66.18 L439.38 66.18 L439.70 66.18 L440.02 66.19 L440.34 66.19 L440.65 66.20 L440.97 66.21 L441.29 66.22 L441.61 66.22 L441.93 66.24 L442.24 66.25 L442.56 66.26 L442.88 66.27 L443.20 66.29 L443.52 66.30 L443.84 66.31 L444.16 66.33 L444.48 66.35 L444.80 66.37 L445.12 66.38 L445.44 66.40 L445.76 66.42 L446.08 66.44 L446.40 66.46 L446.72 66.48 L447.04 66.51 L447.36 66.53 L447.68 66.55 L448.00 66.58 L448.32 66.60 L448.64 66.63 L448.97 66.65 L449.29 66.68 L449.61 66.70 L449.93 66.73 L450.25 66.76 L450.57 66.78 L450.89 66.81 L451.21 66.84 L451.53 66.87 L451.85 66.90 L452.18 66.92 L452.50 66.95 L452.82 66.98 L453.14 67.01 L453.46 67.04 L453.78 67.07 L454.10 67.10 L454.42 67.13 L454.74 67.16 L455.06 67.19 L455.38 67.23 L455.70 67.26 L456.03 67.29 L456.35 67.32 L456.67 67.35 L456.99 67.38 L457.31 67.41 L457.63 67.44 L457.95 67.47 L458.27 67.50 L458.59 67.54 L458.91 67.57 L459.22 67.60 L459.54 67.63 L459.86 67.66 L460.18 67.69 L460.50 67.72 L460.82 67.75 L461.14 67.78 L461.46 67.81 L461.77 67.84 L462.09 67.87 L462.41 67.89 L462.73 67.92 L463.04 67.95 L463.36 67.98 L463.68 68.01 L464.00 68.04 L464.31 68.06 L464.63 68.09 L464.95 68.12 L465.26 68.15 L465.58 68.17 L465.90 68.20 L466.21 68.23 L466.53 68.25 L466.84 68.28 L467.16 68.31 L467.47 68.33 L467.79 68.36 L468.11 68.38 L468.42 68.41 L468.74 68.44 L469.05 68.46 L469.37 68.49 L469.68 68.51 L469.99 68.54 L470.31 68.56 L470.62 68.59 L470.94 68.61 L471.25 68.63 L471.57 68.66 L471.88 68.68 L472.19 68.71 L472.51 68.73 L472.82 68.75 L473.13 68.78 L473.45 68.80 L473.76 68.82 L474.07 68.85 L474.39 68.87 L474.70 68.89 L475.01 68.91 L475.33 68.94 L475.64 68.96 L475.95 68.98 L476.26 69.00 L476.58 69.02 L476.89 69.05 L477.20 69.07 L477.51 69.09 L477.82 69.11 L478.14 69.13 L478.45 69.15 L478.76 69.17 L479.07 69.20 L479.38 69.22 L479.69 69.24 L480.01 69.26 L480.32 69.28 L480.63 69.30 L480.94 69.32 L481.25 69.34 L481.56 69.36 L481.87 69.38 L482.18 69.40 L482.50 69.42 L482.81 69.44 L483.12 69.46 L483.43 69.48 L483.74 69.50 L484.05 69.51 L484.36 69.53 L484.67 69.55 L484.98 69.57 L485.29 69.59 L485.60 69.61 L485.91 69.63 L486.22 69.65 L486.53 69.66 L486.84 69.68 L487.15 69.70 L487.46 69.72 L487.77 69.74 L488.08 69.76 L488.39 69.77 L488.70 69.79 L489.01 69.81 L489.32 69.83 L489.63 69.84 L489.94 69.86 L490.25 69.88 L490.56 69.90 L490.87 69.91 L491.18 69.93 L491.49 69.95 L491.80 69.96 L492.11 69.98 L492.42 70.00 L492.73 70.01 L493.04 70.03 L493.35 70.05 L493.66 70.06 L493.97 70.08 L494.28 70.10 L494.59 70.11 L494.90 70.13 L495.21 70.15 L495.52 70.16 L495.83 70.18 L496.14 70.20 L496.45 70.21 L496.76 70.23 L497.07 70.24 L497.38 70.26 L497.69 70.27 L498.00 70.29 L498.31 70.31 L498.62 70.32 L498.92 70.34 L499.23 70.35 L499.54 70.37 L499.85 70.38 L500.16 70.40 L500.47 70.42 L500.78 70.43 L501.09 70.45 L501.40 70.46 L501.71 70.48 L502.02 70.49 L502.33 70.51 L502.64 70.52 L502.95 70.54 L503.26 70.55 L503.57 70.57 L503.88 70.58 L504.19 70.60 L504.50 70.61 L504.81 70.63 L505.12 70.64 L505.43 70.66 L505.74 70.67 L506.05 70.69 L506.36 70.70 L506.68 70.72 L506.99 70.73 L507.30 70.75 L507.61 70.76 L507.92 70.78 L508.23 70.79 L508.54 70.81 L508.85 70.82 L509.16 70.84 L509.47 70.85 L509.78 70.87 L510.09 70.88 L510.41 70.90 L510.72 70.91 L511.03 70.93 L511.34 70.94 L511.65 70.95 L511.96 70.97 L512.27 70.98 L512.59 71.00 L512.90 71.01 L513.21 71.03 L513.52 71.04 L513.83 71.06 L514.14 71.07 L514.46 71.09 L514.77 71.10 L515.08 71.12 L515.39 71.13 L515.71 71.15 L516.02 71.16 L516.33 71.18 L516.64 71.19 L516.96 71.21 L517.27 71.22 L517.58 71.24 L517.90 71.25 L518.21 71.27 L518.52 71.28 L518.84 71.30 L519.15 71.31 L519.46 71.33 L519.78 71.34 L520.09 71.36 L520.41 71.37 L520.72 71.39 L521.03 71.40 L521.35 71.42 L521.66 71.44 L521.98 71.45 L522.29 71.47 L522.61 71.48 L522.92 71.50 L523.24 71.51 L523.55 71.53 L523.87 71.55 L524.18 71.56 L524.50 71.58 L524.81 71.59 L525.13 71.61 L525.45 71.62 L525.76 71.64 L526.08 71.66 L526.39 71.67 L526.71 71.69 L527.03 71.71 L527.34 71.72 L527.66 71.74 L527.98 71.76 L528.29 71.77 L528.61 71.79 L528.93 71.80 L529.25 71.82 L529.57 71.84 L529.88 71.86 L530.20 71.87 L530.52 71.89 L530.84 71.91 L531.16 71.92 L531.48 71.94 L531.79 71.96 L532.11 71.98 L532.43 71.99 L532.75 72.01 L533.07 72.03 L533.39 72.05 L533.71 72.06 L534.03 72.08 L534.35 72.10 L534.67 72.12 L534.99 72.14 L535.31 72.15 L535.63 72.17 L535.96 72.19 L536.28 72.21 L536.60 72.23 L536.92 72.25 L537.24 72.27 L537.56 72.28 L537.89 72.30 L538.21 72.32 L538.53 72.34 L538.85 72.36 L539.18 72.38 L539.50 72.40" fill="none" stroke="#ED7D31" stroke-width="3.2" stroke-linejoin="round"/>
<g class="tk"><text x="59.9" y="397.30" text-anchor="end">0</text><text x="59.9" y="322.82" text-anchor="end">0.2</text><text x="59.9" y="248.34" text-anchor="end">0.4</text><text x="59.9" y="173.86" text-anchor="end">0.6</text><text x="59.9" y="99.38" text-anchor="end">0.8</text><text x="59.9" y="24.90" text-anchor="end">1</text><text x="80.45" y="425.9" text-anchor="middle">0</text><text x="202.62" y="425.9" text-anchor="middle">0.2</text><text x="324.80" y="425.9" text-anchor="middle">0.4</text><text x="446.97" y="425.9" text-anchor="middle">0.6</text></g>
<text class="tt" style="font-size:21.5px" x="236.90" y="440.5">Riser Height (m)</text>
<text class="tt" transform="translate(22.9 205.1) rotate(-90)" text-anchor="middle">Gas oil concentration (wt fraction)</text>
<rect x="355.7" y="219.7" width="99" height="59.5" fill="#fff" stroke="#000" stroke-width="2.5"/>
<line x1="369.5" y1="234.4" x2="407.5" y2="234.4" stroke="#A5A5A5" stroke-width="3.2" stroke-linecap="round"/>
<line x1="369.5" y1="264.4" x2="407.5" y2="264.4" stroke="#ED7D31" stroke-width="3" stroke-linecap="round"/>
<text class="lg" x="412.2" y="239.3">ITC</text>
<text class="lg" x="412.2" y="268.8">FTC</text>
</svg>
</body></html>
